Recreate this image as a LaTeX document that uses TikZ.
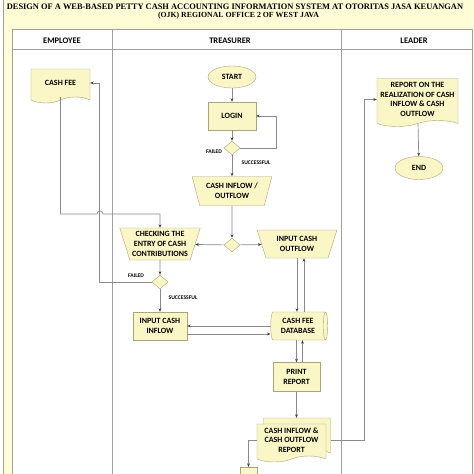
\documentclass[tikz,border=0pt]{standalone}
\usepackage{fontspec}
\newfontfamily\labelfont{Carlito}
\newfontfamily\titlefont{Liberation Serif}
\usetikzlibrary{arrows.meta}
\usetikzlibrary{shapes.geometric}
\usetikzlibrary{shapes.symbols}
\definecolor{paper}{HTML}{FFFDD6}
\definecolor{shapefill}{HTML}{FAF6C6}
\definecolor{shapeline}{HTML}{A9A57C}
\definecolor{wirecolor}{HTML}{8A8A8A}
\tikzset{base/.style = {draw=shapeline, fill=shapefill, inner sep=1pt, align=center,
                        font=\labelfont\bfseries\fontsize{8}{9.6}\selectfont}}
\tikzset{box/.style = {base, rectangle}}
\tikzset{term/.style = {base, ellipse, inner sep=0}}
\tikzset{dec/.style = {base, diamond, minimum width=16pt, minimum height=14pt, inner sep=0}}
\tikzset{manual/.style = {base, trapezium, shape border rotate=180, trapezium stretches=true,
                          trapezium left angle=70, trapezium right angle=70}}
\tikzset{doc/.style = {base, tape, tape bend top=none, tape bend bottom=in and out,
                       tape bend height=6pt}}
\tikzset{store/.style = {base, cylinder, shape aspect=0.3, inner sep=0}}
\tikzset{wire/.style = {draw=wirecolor, line width=0.7pt}}
\tikzset{arr/.style = {wire, -{Stealth[length=3.5pt, width=2.8pt, color=black!75]}}}
\tikzset{tag/.style = {font=\labelfont\bfseries\fontsize{5.6}{6}\selectfont}}
\tikzset{lane/.style = {draw=gray!75, line width=0.8pt}}
\tikzset{title/.style = {font=\titlefont\bfseries\fontsize{8.4}{10}\selectfont, inner sep=0}}
\tikzset{lanehead/.style = {font=\labelfont\bfseries\fontsize{8.5}{9}\selectfont}}

\begin{document}
\begin{tikzpicture}[x=1pt, y=-1pt]
    \useasboundingbox (0,0) rectangle (474,474);
    % pool and lanes
    \draw [lane, fill=paper] (3,-10) rectangle (480,490);
    \draw [lane, fill=white] (12,29) rectangle (472,490);
    \draw [lane] (12,49) -- (472,49);
    \draw [lane] (112,29) -- (112,490);
    \draw [lane] (341,29) -- (341,490);
    \node [title] (head) at (235,6.5) {DESIGN OF A WEB-BASED PETTY CASH ACCOUNTING INFORMATION SYSTEM AT OTORITAS JASA KEUANGAN};
    \node [title, font=\titlefont\bfseries\fontsize{7.8}{10}\selectfont] (head2) at (238.5,16) {(OJK) REGIONAL OFFICE 2 OF WEST JAVA};
    \node [lanehead] (emp) at (62,40.5) {EMPLOYEE};
    \node [lanehead] (tre) at (230,40.5) {TREASURER};
    \node [lanehead] (lea) at (414,40.5) {LEADER};

    % employee
    \node [doc, minimum width=59pt, minimum height=34pt] (fee) at (60.5,83) {CASH FEE};

    % treasurer
    \node [term, minimum width=48pt, minimum height=22pt] (start) at (232,77) {START};
    \node [box, minimum width=48pt, minimum height=28pt] (login) at (232,116) {LOGIN};
    \node [dec] (d1) at (232,148) {};
    \node [manual, minimum width=80pt, minimum height=29pt] (flow) at (232,191) {CASH INFLOW /\\ OUTFLOW};
    \node [dec] (d2) at (232,245) {};
    \node [manual, minimum width=81pt, minimum height=32pt] (check) at (160,244) {CHECKING THE\\ ENTRY OF CASH\\ CONTRIBUTIONS};
    \node [manual, minimum width=80pt, minimum height=28pt] (outflow) at (297,244) {INPUT CASH\\ OUTFLOW};
    \node [dec] (d3) at (160,282) {};
    \node [box, minimum width=54pt, minimum height=28pt] (inflow) at (160,326) {INPUT CASH\\ INFLOW};
    \node [store, minimum width=28pt, minimum height=57pt] (db) at (298,326) {CASH FEE\\ DATABASE};
    \node [box, minimum width=47pt, minimum height=29pt] (print) at (296.5,377) {PRINT\\ REPORT};
    \node [doc, minimum width=67pt, minimum height=38pt] (repback) at (297,434) {};
    \node [doc, minimum width=69pt, minimum height=38pt] (rep) at (291.5,440) {CASH INFLOW \&\\ CASH OUTFLOW\\ REPORT};
    \node [box, minimum width=17pt, minimum height=26pt] (tail) at (248.5,480) {};

    % leader
    \node [doc, minimum width=81pt, minimum height=48pt] (real) at (417.5,99.5) {REPORT ON THE\\ REALIZATION OF CASH\\ INFLOW \& CASH\\ OUTFLOW};
    \node [term, minimum width=48pt, minimum height=23pt] (end) at (419,168) {END};

    % connectors
    \draw [arr] (start) -- (login);
    \draw [arr] (login) -- (d1);
    \draw [arr] (d1.east) -- ++(36,0) |- (login.east);
    \node [tag] (fail1) at (214,152) {FAILED};
    \draw [arr] (d1) -- (flow);
    \node [tag] (ok1) at (256,163) {SUCCESSFUL};
    \draw [arr] (flow) -- (d2);
    \draw [arr] (d2) -- (check);
    \draw [arr] (d2) -- (outflow);
    \draw [arr] (fee.south) |- (97,214) arc [start angle=180, end angle=360, radius=3] -| (check.north);
    \draw [arr] (check) -- (d3);
    \draw [arr] (d3.west) -- ++(-52,0) |- (fee.east);
    \node [tag] (fail2) at (136,276) {FAILED};
    \draw [arr] (d3) -- (inflow);
    \node [tag] (ok2) at (183,298) {SUCCESSFUL};
    \draw [arr] (db.west) -- (inflow.east);
    \draw [arr] ([yshift=-8pt]inflow.east) -- ([yshift=-8pt]db.west);
    \draw [arr] (outflow.south) -- (outflow.south |- db.north);
    \draw [arr] ([xshift=6pt]db.north) -- ([xshift=6pt]db.north |- outflow.south);
    \draw [arr] (db.south -| print.north) -- (print.north);
    \draw [arr] ([xshift=6pt]print.north) -- ([xshift=6pt]print.north |- db.south);
    \draw [arr] (print.south) -- (print.south |- repback.north);
    \draw [arr] (rep.east -| repback.east) -- ++(34,0) |- (real.west);
    \draw [arr] (rep.west) -| (tail.north);
    \draw [arr] (real) -- (end);
\end{tikzpicture}
\end{document}
